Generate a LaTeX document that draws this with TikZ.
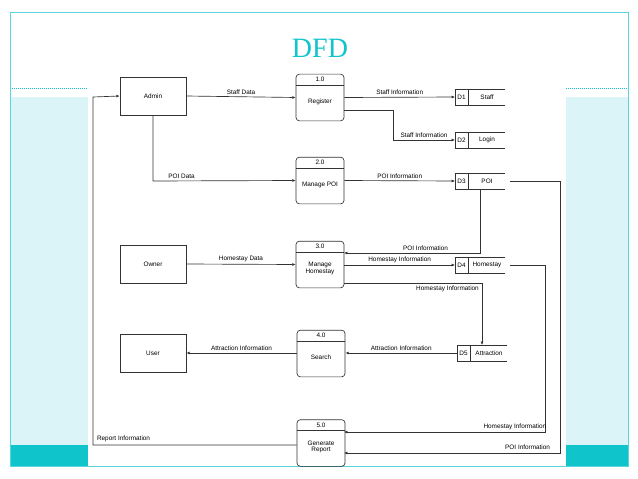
\documentclass[tikz,border=0pt]{standalone}
\usepackage{fontspec}
\setmainfont{Liberation Sans}
\newfontfamily\titlefont{Liberation Serif}
\usetikzlibrary{arrows.meta}
\definecolor{teal1}{HTML}{10C4CC}
\definecolor{lcyan}{HTML}{DAF4F8}
\begin{document}
\begin{tikzpicture}[x=0.75pt,y=-0.75pt,
  ent/.style={draw=black!80,line width=0.5pt,minimum width=49.5pt,minimum height=28.5pt,font=\fontsize{4.8}{5}\selectfont},
  proc/.style={draw=black!80,line width=0.5pt,rounded corners=2.5pt,minimum width=36pt,minimum height=35pt},
  lbl/.style={font=\fontsize{4.8}{5}\selectfont,inner sep=0.5pt},
  flow/.style={draw=black!80,line width=0.5pt,-{Latex[length=2.5pt,width=2.2pt]}},
  ln/.style={draw=black!80,line width=0.5pt}]
\useasboundingbox (0,0) rectangle (638,478);
% slide background
\fill[lcyan] (10,97) rectangle (88,445);
\fill[lcyan] (566,97) rectangle (628,445);
\fill[teal1] (10,445) rectangle (88,466);
\fill[teal1] (566,445) rectangle (628,466);
\draw[teal1,densely dotted,line width=0.5pt] (10,88) -- (88,88) (566,88) -- (628,88);
\draw[teal1!70,line width=0.6pt] (10,12) rectangle (628,466);
\node[font=\titlefont\fontsize{21}{21}\selectfont,text=teal1] (title) at (320,48) {DFD};
% entities
\node[ent] (admin) at (153,96) {Admin};
\node[ent] (owner) at (153,264) {Owner};
\node[ent] (user) at (153,353) {User};
% processes
\foreach \n/\x/\y/\num/\txt in {reg/320/97.5/1.0/Register, mpoi/320/180.5/2.0/Manage POI, mh/320/264.5/3.0/{Manage\\Homestay}, srch/321/353.5/4.0/Search, gr/321/443/5.0/{Generate\\Report}}{
  \node[proc] (\n) at (\x,\y) {};
  \draw[ln] ([yshift=-8.25pt]\n.north west) -- ([yshift=-8.25pt]\n.north east);
  \node[lbl] at ([yshift=-4.1pt]\n.north) {\num};
  \node[lbl,align=center] at ([yshift=-3pt]\n.center) {\txt};
}
% data stores
\foreach \n/\x/\y/\id/\txt in {d1/455/97/D1/Staff, d2/455/140/D2/Login, d3/455/181/D3/POI, d4/455/265/D4/Homestay, d5/457/353/D5/Attraction}{
  \coordinate (\n) at (\x,\y);
  \draw[ln] (\x+50,\y-8) -- (\x,\y-8) -- (\x,\y+8) -- (\x+50,\y+8);
  \draw[ln] (\x+13,\y-8) -- (\x+13,\y+8);
  \node[lbl] at (\x+6.5,\y) {\id};
  \node[lbl] at (\x+32,\y) {\txt};
}
\coordinate (d1r) at (510,97); \coordinate (d3r) at (510,181);
\coordinate (d4r) at (510,265);
% flows
\draw[flow] (admin.east) -- node[lbl,above=1pt]{Staff Data} (reg.west);
\draw[flow] (reg.east) -- node[lbl,above=1pt]{Staff Information} (d1);
\draw[flow] (344,110) -- (393,110) -- (393,140) -- node[lbl,above=1pt,pos=0.5]{Staff Information} (d2);
\draw[flow] (admin.south) -- (153,181) -- node[lbl,above=1pt,pos=0.2]{POI Data} (mpoi.west);
\draw[flow] (mpoi.east) -- node[lbl,above=1pt]{POI Information} (d3);
\draw[flow] (480,189) -- (480,253) -- node[lbl,above=1pt,pos=0.4]{POI Information} (344,253);
\draw[flow] (owner.east) -- node[lbl,above=1pt]{Homestay Data} (mh.west);
\draw[flow] (mh.east |- d4) -- node[lbl,above=1pt]{Homestay Information} (d4);
\draw[flow] (344,283) -- (482,283) node[lbl,below=1.5pt,pos=0.75]{Homestay Information} -- (482,345);
\draw[flow] (d5) -- node[lbl,above=1pt]{Attraction Information} (srch.east |- d5);
\draw[flow] (srch.west |- d5) -- node[lbl,above=1pt]{Attraction Information} (user.east);
\draw[flow] (d4r) -- (545,265) -- (545,432) -- node[lbl,above=1pt,pos=0.15]{Homestay Information} (344,432);
\draw[flow] (d3r) -- (560,181) -- (560,453) -- node[lbl,above=2pt,pos=0.15]{POI Information} (344,453);
\draw[flow] (gr.west |- 0,445) -- node[lbl,above=2pt,pos=0.85]{Report Information} (93,445) -- (93,97) -- (admin.west);
\end{tikzpicture}
\end{document}
